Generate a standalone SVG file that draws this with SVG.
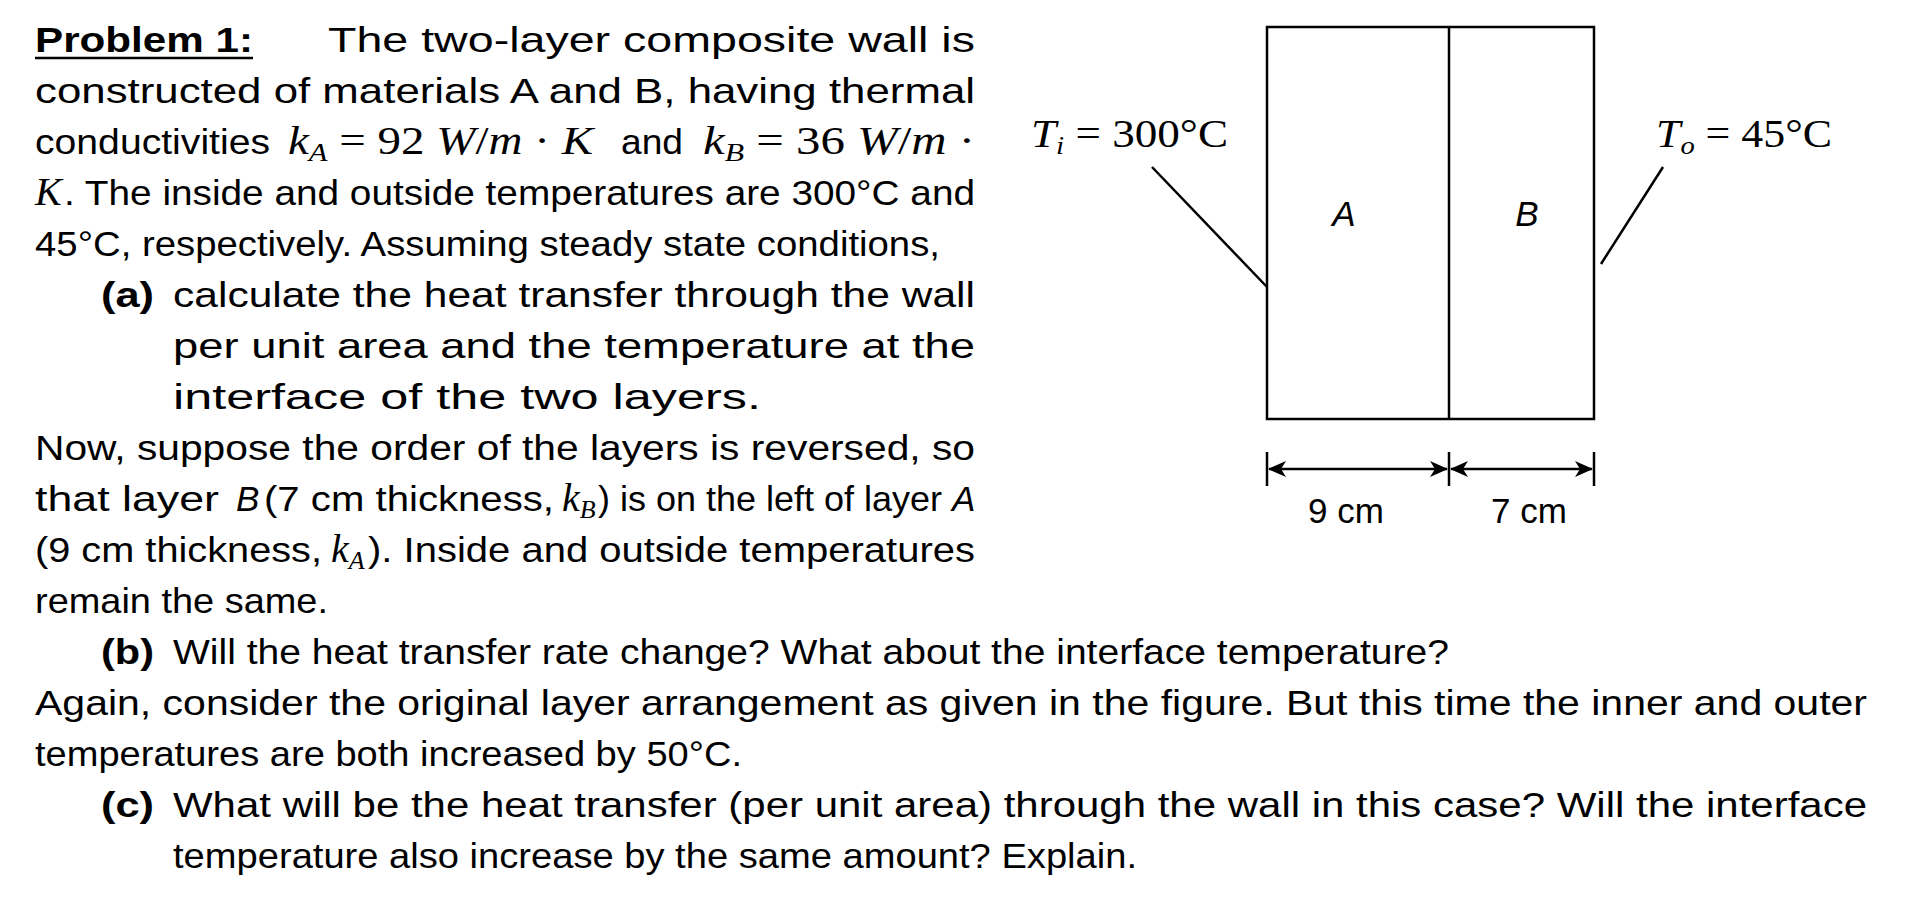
<svg xmlns="http://www.w3.org/2000/svg" width="1906" height="907" viewBox="0 0 1906 907">
<style>
.t{font-family:"Liberation Sans",Arial,sans-serif;font-size:35px;fill:#000}
.b{font-weight:bold}
.m{font-family:"Liberation Serif","Times New Roman",serif;font-size:40px;font-style:italic;fill:#000}
.mr{font-style:normal}
.s{font-size:26px}
.ln{stroke:#000;stroke-width:2.5;fill:none}
</style>
<defs>
<marker id="ah" viewBox="0 0 18 16" refX="17" refY="8" markerWidth="18" markerHeight="16" markerUnits="userSpaceOnUse" orient="auto-start-reverse"><path d="M0,0 L18,8 L0,16 L5,8 Z" fill="#000"/></marker>
</defs>
<rect width="1906" height="907" fill="#fff"/>
<g id="text">
<text class="t b" x="35" y="52" textLength="218" lengthAdjust="spacingAndGlyphs">Problem 1:</text>
<line x1="35" y1="58" x2="253" y2="58" stroke="#000" stroke-width="2.5"/>
<text class="t" x="328" y="52" textLength="647" lengthAdjust="spacingAndGlyphs">The two-layer composite wall is</text>
<text class="t" x="35" y="103" textLength="940" lengthAdjust="spacingAndGlyphs">constructed of materials A and B, having thermal</text>
<text class="t" x="35" y="154" textLength="235" lengthAdjust="spacingAndGlyphs">conductivities</text>
<text class="m" x="288" y="154" textLength="305" lengthAdjust="spacingAndGlyphs">k<tspan class="s" dy="7">A</tspan><tspan class="mr" dy="-7"> = 92 </tspan>W<tspan class="mr">/</tspan>m<tspan class="mr"> · </tspan>K</text>
<text class="t" x="621" y="154" textLength="62" lengthAdjust="spacingAndGlyphs">and</text>
<text class="m" x="703" y="154" textLength="272" lengthAdjust="spacingAndGlyphs">k<tspan class="s" dy="7">B</tspan><tspan class="mr" dy="-7"> = 36 </tspan>W<tspan class="mr">/</tspan>m<tspan class="mr"> ·</tspan></text>
<text class="m" x="35" y="205">K</text>
<text class="t" x="64" y="205" textLength="911" lengthAdjust="spacingAndGlyphs">. The inside and outside temperatures are 300°C and</text>
<text class="t" x="35" y="256" textLength="905" lengthAdjust="spacingAndGlyphs">45°C, respectively. Assuming steady state conditions,</text>
<text class="t b" x="101" y="307" textLength="53" lengthAdjust="spacingAndGlyphs">(a)</text>
<text class="t" x="173" y="307" textLength="802" lengthAdjust="spacingAndGlyphs">calculate the heat transfer through the wall</text>
<text class="t" x="173" y="358" textLength="802" lengthAdjust="spacingAndGlyphs">per unit area and the temperature at the</text>
<text class="t" x="173" y="409" textLength="588" lengthAdjust="spacingAndGlyphs">interface of the two layers.</text>
<text class="t" x="35" y="460" textLength="940" lengthAdjust="spacingAndGlyphs">Now, suppose the order of the layers is reversed, so</text>
<text class="t" x="35" y="511" textLength="184" lengthAdjust="spacingAndGlyphs">that layer</text>
<text class="t" x="236" y="511" font-style="italic">B</text>
<text class="t" x="264" y="511" textLength="290" lengthAdjust="spacingAndGlyphs">(7 cm thickness,</text>
<text class="m" x="562" y="511">k<tspan class="s" dy="7">B</tspan></text>
<text class="t" x="598" y="511" textLength="344" lengthAdjust="spacingAndGlyphs">) is on the left of layer</text>
<text class="t" x="952" y="511" font-style="italic">A</text>
<text class="t" x="35" y="562" textLength="287" lengthAdjust="spacingAndGlyphs">(9 cm thickness,</text>
<text class="m" x="331" y="562">k<tspan class="s" dy="7">A</tspan></text>
<text class="t" x="368" y="562" textLength="607" lengthAdjust="spacingAndGlyphs">). Inside and outside temperatures</text>
<text class="t" x="35" y="613" textLength="293" lengthAdjust="spacingAndGlyphs">remain the same.</text>
<text class="t b" x="101" y="664" textLength="53" lengthAdjust="spacingAndGlyphs">(b)</text>
<text class="t" x="173" y="664" textLength="1276" lengthAdjust="spacingAndGlyphs">Will the heat transfer rate change? What about the interface temperature?</text>
<text class="t" x="35" y="715" textLength="1832" lengthAdjust="spacingAndGlyphs">Again, consider the original layer arrangement as given in the figure. But this time the inner and outer</text>
<text class="t" x="35" y="766" textLength="707" lengthAdjust="spacingAndGlyphs">temperatures are both increased by 50°C.</text>
<text class="t b" x="101" y="817" textLength="53" lengthAdjust="spacingAndGlyphs">(c)</text>
<text class="t" x="173" y="817" textLength="1694" lengthAdjust="spacingAndGlyphs">What will be the heat transfer (per unit area) through the wall in this case? Will the interface</text>
<text class="t" x="173" y="868" textLength="964" lengthAdjust="spacingAndGlyphs">temperature also increase by the same amount? Explain.</text>
</g>
<g id="wall">
<rect class="ln" x="1267" y="27" width="327" height="392"/>
<line class="ln" x1="1449" y1="27" x2="1449" y2="419"/>
<text class="t" x="1344" y="226" text-anchor="middle" font-style="italic">A</text>
<text class="t" x="1527" y="226" text-anchor="middle" font-style="italic">B</text>
</g>
<g id="labels">
<text class="m" x="1031" y="147" textLength="197" lengthAdjust="spacingAndGlyphs">T<tspan class="s" dy="7">i</tspan><tspan class="mr" dy="-7"> = 300°C</tspan></text>
<text class="m" x="1656" y="147" textLength="176" lengthAdjust="spacingAndGlyphs">T<tspan class="s" dy="7">o</tspan><tspan class="mr" dy="-7"> = 45°C</tspan></text>
<text class="t" x="1346" y="523" text-anchor="middle">9 cm</text>
<text class="t" x="1529" y="523" text-anchor="middle">7 cm</text>
</g>
<g id="connectors">
<line class="ln" x1="1152" y1="167" x2="1267" y2="287"/>
<line class="ln" x1="1663" y1="167" x2="1601" y2="264"/>
<line class="ln" x1="1267" y1="452" x2="1267" y2="486"/>
<line class="ln" x1="1449" y1="452" x2="1449" y2="486"/>
<line class="ln" x1="1594" y1="452" x2="1594" y2="486"/>
<line class="ln" x1="1269" y1="469" x2="1447" y2="469" stroke-width="3.5" marker-start="url(#ah)" marker-end="url(#ah)"/>
<line class="ln" x1="1451" y1="469" x2="1592" y2="469" stroke-width="3.5" marker-start="url(#ah)" marker-end="url(#ah)"/>
</g>
</svg>
